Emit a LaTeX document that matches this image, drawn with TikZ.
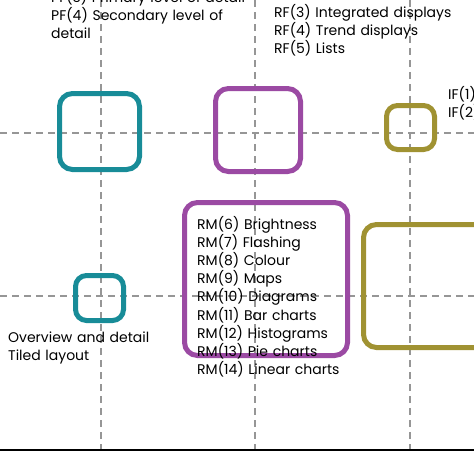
\documentclass[tikz,border=0pt]{standalone}
\usepackage{fontspec}
\setmainfont{Poppins}
\definecolor{tealc}{RGB}{24,140,152}
\definecolor{purplec}{RGB}{155,74,163}
\definecolor{olivec}{RGB}{160,146,50}
\definecolor{gridc}{RGB}{150,150,150}
\begin{document}
\begin{tikzpicture}[x=1pt,y=-1pt,
  guide/.style={draw=gridc,line width=1.5pt,dash pattern=on 7pt off 5pt},
  box/.style={draw,line width=5pt,rounded corners=13pt,inner sep=0pt,fill=none},
  lbl/.style={anchor=base west,inner sep=0pt,text width=#1,align=left,
    font=\fontsize{14}{18.2}\selectfont},
  lbl/.default=9cm]
\useasboundingbox (0,0) rectangle (474,474);
\clip (0,0) rectangle (474,474);
% guide lines
\coordinate (v1t) at (101,0);   \coordinate (v1b) at (101,450);
\coordinate (v2t) at (255,0);   \coordinate (v2b) at (255,450);
\coordinate (v3t) at (410,0);   \coordinate (v3b) at (410,450);
\coordinate (h1l) at (0,133);   \coordinate (h1r) at (474,133);
\coordinate (h2l) at (0,296);   \coordinate (h2r) at (474,296);
\coordinate (axl) at (0,450);   \coordinate (axr) at (474,450);
\draw[guide] (v1t) -- (v1b);
\draw[guide] (v2t) -- (v2b);
\draw[guide] (v3t) -- (v3b);
\draw[guide] (h1l) -- (h1r);
\draw[guide] (h2l) -- (h2r);
\draw[black,line width=2.8pt] (axl) -- (axr);
% boxes
\node[box,draw=tealc,minimum width=80pt,minimum height=76pt] (tealA) at (99.5,131.5) {};
\node[box,draw=purplec,minimum width=85pt,minimum height=83pt] (purpA) at (258,130) {};
\node[box,draw=olivec,minimum width=48pt,minimum height=44pt,rounded corners=11pt] (oliveA) at (410.5,127.5) {};
\node[box,draw=tealc,minimum width=48pt,minimum height=45pt,rounded corners=11pt] (tealB) at (99.5,298) {};
\node[box,draw=purplec,minimum width=163pt,minimum height=153pt] (purpB) at (266,279) {};
\node[box,draw=olivec,minimum width=160pt,minimum height=123pt] (oliveB) at (443.5,286) {};
% labels
\node[lbl] (pf) at (51,2) {PF(3) Primary level of detail\\PF(4) Secondary level of\\detail};
\node[lbl] (rf) at (274,17) {RF(3) Integrated displays\\RF(4) Trend displays\\RF(5) Lists};
\node[lbl] (iff) at (448,99) {IF(1)\\IF(2)};
\node[lbl] (ov) at (8,342) {Overview and detail\\Tiled layout};
\node[lbl] (rm) at (197,229) {RM(6) Brightness\\RM(7) Flashing\\RM(8) Colour\\RM(9) Maps\\RM(10) Diagrams\\RM(11) Bar charts\\RM(12) Histograms\\RM(13) Pie charts\\RM(14) Linear charts};
\end{tikzpicture}
\end{document}
